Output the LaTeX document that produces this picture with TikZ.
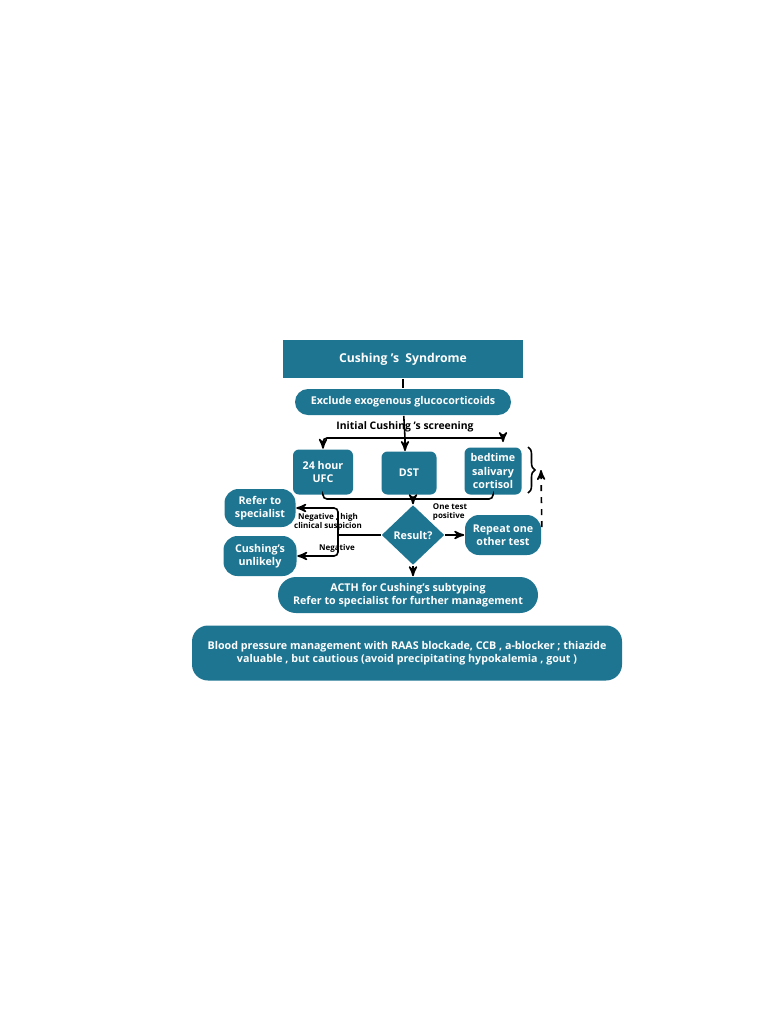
\documentclass[tikz,border=0pt]{standalone}
\usepackage{fontspec}
\setmainfont{Open Sans}
\usetikzlibrary{arrows,shapes.geometric,decorations.pathreplacing}
\definecolor{cushteal}{RGB}{30,117,145}

\begin{document}
\begin{tikzpicture}[x=0.5pt, y=-0.5pt, >=stealth', line width=0.8pt,
	box/.style={fill=cushteal, text=white, align=center, inner sep=0pt,
		font=\bfseries\fontsize{5.35}{6.7}\selectfont},
	pill/.style={box, rounded corners=#1},
	lbl/.style={align=center, inner sep=0pt, font=\bfseries\fontsize{4}{4.8}\selectfont}]
	\useasboundingbox[fill=white] (0,0) rectangle (768,1024);
	% boxes
	\node[box, minimum width=120pt, minimum height=19pt, font=\bfseries\fontsize{6.1}{7}\selectfont] at (403,359) (title) {Cushing 's~ Syndrome};
	\node[pill=6.5pt, minimum width=108pt, minimum height=13pt] at (403,402) (excl) {Exclude exogenous glucocorticoids};
	\node[pill=3pt, minimum width=30pt, minimum height=22.5pt] at (323,472) (ufc) {24 hour\\UFC};
	\node[pill=3pt, minimum width=27.5pt, minimum height=21.5pt] at (409,473) (dst) {DST};
	\node[pill=3pt, minimum width=28.5pt, minimum height=23.5pt] at (493,471) (bed) {bedtime\\salivary\\cortisol};
	\node[box, diamond, minimum width=31.5pt, minimum height=30pt] at (413,535) (res) {Result?};
	\node[pill=7pt, minimum width=38pt, minimum height=20pt] at (503,535) (rep) {Repeat one\\other test};
	\node[pill=7pt, minimum width=35.5pt, minimum height=19pt] at (260,508) (refer) {Refer to\\specialist};
	\node[pill=7pt, minimum width=36.5pt, minimum height=20pt] at (260,556) (unl) {Cushing's\\unlikely};
	\node[pill=9pt, minimum width=130pt, minimum height=18pt] at (408,595) (acth) {ACTH for Cushing's subtyping\\Refer to specialist for further management};
	\node[pill=8pt, minimum width=215pt, minimum height=27.5pt] at (407,653) (bp) {Blood pressure management with RAAS blockade, CCB , a-blocker ; thiazide\\valuable , but cautious (avoid precipitating hypokalemia , gout )};
	% labels
	\node[lbl, font=\bfseries\fontsize{5.2}{6}\selectfont] at (405,427) (scr) {Initial Cushing 's screening};
	\node[lbl] at (328,522) (neghi) {Negative , high\\clinical suspicion};
	\node[lbl] at (337,548) (neg) {Negative};
	\node[lbl, align=left] at (450,512) (pos) {One test\\positive};
	% junctions
	\coordinate (br) at (405,438);
	\coordinate (rtip) at (503,442);
	\coordinate (jn) at (413,499);
	\coordinate (lj) at (338,535);
	\coordinate (dtop) at (541,470);
	% connectors
	\draw (title) -- (excl);
	\draw (excl) -- (br);
	\draw[->, rounded corners=2pt] (br) -| (ufc.north);
	\draw[->] (br) -- (405,451);
	\draw[->] (br) -| (rtip);
	\draw[rounded corners=2pt] (ufc.south) |- (jn) -| (bed.south);
	\draw[->] (jn) -- (res.north);
	\draw[->] (res.south) -- (res.south |- acth.north);
	\draw[->] (res.east) -- (rep.west);
	\draw (res.west) -- (lj);
	\draw[->, rounded corners=2pt] (lj) |- (refer.east);
	\draw[->, rounded corners=2pt] (lj) |- (unl.east);
	\draw[->, dashed] ([yshift=4pt]rep.east) -- (dtop);
	\draw[decorate, decoration={brace, amplitude=3.5pt}] (528,447) -- (528,493);
\end{tikzpicture}
\end{document}
